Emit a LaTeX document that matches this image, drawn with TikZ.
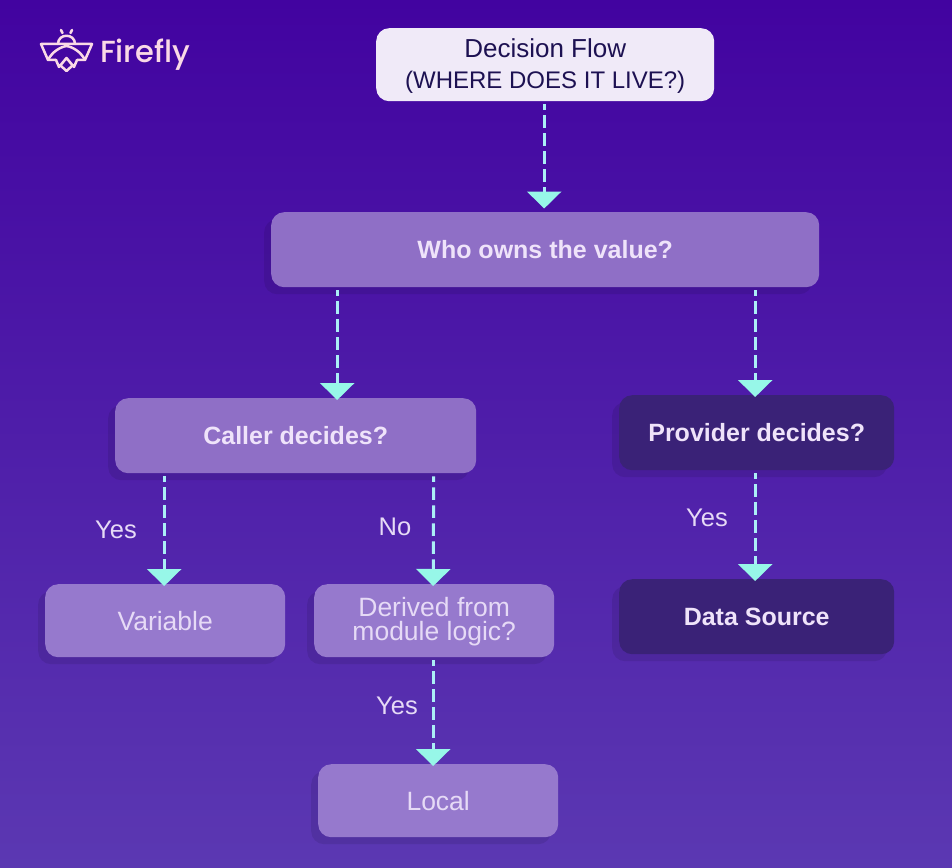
\documentclass[tikz,border=0pt]{standalone}
\usepackage{fontspec}
\setmainfont{Liberation Sans}
\newfontfamily\logofont{Poppins Medium}
\usetikzlibrary{arrows.meta,shadows,calc}
\definecolor{bgtop}{HTML}{4203A0}
\definecolor{bgbot}{HTML}{5B38B2}
\definecolor{lightbox}{HTML}{F0EAF8}
\definecolor{midbox}{HTML}{8F6FC6}
\definecolor{softbox}{HTML}{9679CD}
\definecolor{darkbox}{HTML}{3A2277}
\definecolor{inktext}{HTML}{1D1152}
\definecolor{paletext}{HTML}{EFE3FA}
\definecolor{softtext}{HTML}{E6DAF6}
\definecolor{aqua}{HTML}{97F7E8}
\definecolor{dashc}{HTML}{ABEFF6}
\definecolor{logoc}{HTML}{FAD9E6}
\tikzset{
  x=1pt,y=-1pt,
  boxbase/.style={rounded corners=13pt,inner sep=0pt,align=center,anchor=north west,
    copy shadow={shadow xshift=-7pt,shadow yshift=-7pt,fill=black,opacity=0.09,draw=none}},
  topbox/.style={rounded corners=13pt,inner sep=0pt,align=center,anchor=north west,fill=lightbox,text=inktext,
    font=\fontsize{24}{32}\selectfont},
  midnode/.style={boxbase,fill=midbox,text=paletext,font=\fontsize{25}{28}\selectfont\bfseries},
  softnode/.style={boxbase,fill=softbox,text=softtext,font=\fontsize{26.5}{24}\selectfont},
  darknode/.style={boxbase,fill=darkbox,text=paletext,font=\fontsize{25}{28}\selectfont\bfseries},
  flow/.style={draw=dashc,line width=3pt,dash pattern=on 12.5pt off 5.5pt,dash phase=7pt,shorten <=3pt,shorten >=-2pt,
    -{Triangle[width=34pt,length=17pt,fill=aqua,color=aqua]}},
  edgelabel/.style={text=softtext,font=\fontsize{25.5}{28}\selectfont,inner sep=0pt},
  logoline/.style={draw=logoc,line width=2.5pt,line join=round,line cap=round},
}
\begin{document}
\begin{tikzpicture}
\useasboundingbox (0,0) rectangle (952,867);
\fill[top color=bgtop,bottom color=bgbot] (0,0) rectangle (952,867);

% logo
\draw[logoline] (56,60) -- (48,60) -- (41,44) -- (92,44) -- (85,60) -- (77,60);
\draw[logoline] (58,44) .. controls (58,33) and (75,33) .. (75,44);
\draw[logoline] (48,60) .. controls (52,52) and (60,47) .. (66.5,46) .. controls (73,47) and (81,52) .. (85,60);
\draw[logoline] (56,60) -- (59,67) -- (66.5,58) -- (74,67) -- (77,60);
\draw[logoline] (60,65) -- (66.5,71) -- (73,65);
\draw[logoline] (61,30) -- (62.5,33) (72,30) -- (70.5,33);
\node[anchor=west,inner sep=0pt,text=logoc,font=\fontsize{30.5}{33}\logofont] (brand) at (100,55) {Firefly};

% boxes
\node[topbox,minimum width=338pt,minimum height=73pt] (start) at (376,28) {\rule{0pt}{22pt}{\fontsize{26}{32}\selectfont Decision Flow}\\[-1pt](WHERE DOES IT LIVE?)};
\node[midnode,minimum width=548pt,minimum height=75pt] (who) at (271,212) {Who owns the value?};
\node[midnode,minimum width=361pt,minimum height=75pt] (caller) at (115,398) {Caller decides?};
\node[darknode,minimum width=275pt,minimum height=75pt] (provider) at (619,395) {Provider decides?};
\node[softnode,minimum width=240pt,minimum height=73pt] (variable) at (45,584) {Variable};
\node[softnode,minimum width=240pt,minimum height=73pt] (derived) at (314,584) {\rule{0pt}{22pt}Derived from\\module logic?};
\node[softnode,minimum width=240pt,minimum height=73pt] (local) at (318,764) {Local};
\node[darknode,minimum width=275pt,minimum height=75pt] (datasource) at (619,579) {Data Source};

% connectors
\draw[flow,shorten >=3.5pt] ([xshift=-1pt]start.south) -- ([xshift=-1pt]who.north);
\draw[flow] ([xshift=-208pt]who.south) -- ([xshift=41.5pt]caller.north);
\draw[flow] ([xshift=210pt]who.south) -- ([xshift=-1.5pt]provider.north);
\draw[flow] ([xshift=-131.5pt]caller.south) -- ([xshift=-1pt]variable.north);
\draw[flow] ([xshift=138pt]caller.south) -- ([xshift=-1pt]derived.north);
\draw[flow] ([xshift=-1.5pt]provider.south) -- ([xshift=-1.5pt]datasource.north);
\draw[flow] ([xshift=-1pt]derived.south) -- ([xshift=-5pt]local.north);

% labels
\node[edgelabel] (yes1) at (116,530) {Yes};
\node[edgelabel] (no1) at (395,527) {No};
\node[edgelabel] (yes2) at (707,518) {Yes};
\node[edgelabel] (yes3) at (397,706) {Yes};
\end{tikzpicture}
\end{document}
